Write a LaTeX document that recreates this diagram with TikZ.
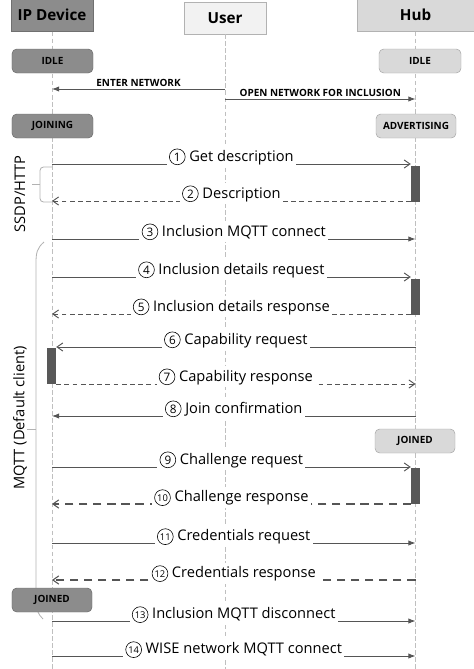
\documentclass[tikz,border=0pt]{standalone}
\usepackage{fontspec}
\setmainfont{Open Sans}
\usepackage{tikz}
\usetikzlibrary{arrows.meta,positioning,calc}

\definecolor{msggray}{HTML}{555555}
\definecolor{darkstate}{HTML}{8C8C8C}
\definecolor{lightstate}{HTML}{D9D9D9}
\definecolor{userfill}{HTML}{F2F2F2}
\definecolor{barfill}{HTML}{585858}

\newcommand{\cnum}[1]{\tikz[baseline=(cn.base)]\node[circle,draw=black,line width=0.5pt,fill=none,inner sep=0pt,minimum size=13.5pt,font=\fontsize{10}{10}\selectfont] (cn) {#1};}
\newcommand{\cnumm}[1]{\cnum{\fontsize{8}{8}\selectfont\kern-0.4pt#1\kern-0.4pt}}

\tikzset{
  head/.style={draw=#1!80!black,fill=#1,minimum height=0.98cm,font=\fontsize{13}{13}\selectfont\bfseries},
  state/.style={draw=#1!75!black,fill=#1,rounded corners=4pt,minimum height=0.72cm,font=\fontsize{8.5}{8.5}\selectfont\bfseries},
  lifeline/.style={draw=gray!50,dashed,dash pattern=on 4pt off 2pt,line width=0.5pt},
  req/.style={draw=msggray,line width=0.8pt,-{Straight Barb[length=5pt,width=7pt]}},
  reqf/.style={draw=msggray,line width=0.8pt,-{Latex[length=6pt,width=4.5pt]}},
  resp/.style={draw=msggray,line width=0.8pt,dash pattern=on 4pt off 3pt,-{Straight Barb[length=5pt,width=7pt]}},
  respl/.style={draw=msggray,line width=0.9pt,dash pattern=on 7pt off 5pt,-{Straight Barb[length=5pt,width=7pt]}},
  lbl/.style={fill=white,anchor=base,yshift=0.09cm,inner xsep=2pt,inner ysep=2pt,font=\fontsize{12.5}{12.5}\selectfont},
  caplbl/.style={above,inner sep=2pt,font=\fontsize{8.5}{8.5}\selectfont\bfseries},
  actbar/.style={fill=barfill,draw=none,minimum width=0.27cm,minimum height=1.08cm,inner sep=0pt},
  bracket/.style={draw=gray!60,line width=0.7pt},
}

\begin{document}
\begin{tikzpicture}[x=0.03cm,y=-0.03cm]
    \useasboundingbox (0,0) rectangle (474,669);

    % Headers
    \node[head=darkstate,minimum width=2.46cm] (dev) at (52,15) {IP Device};
    \node[head=userfill,draw=gray!60,minimum width=2.46cm,minimum height=0.96cm] (usr) at (225,18) {User};
    \node[head=lightstate,draw=gray!60,minimum width=3.51cm] (hub) at (415.5,15) {Hub};

    % Lifelines
    \coordinate (bottom) at (0,669);
    \draw[lifeline] (dev.south) -- (dev |- bottom);
    \draw[lifeline] (usr.south) -- (usr |- bottom);
    \draw[lifeline] (hub.south) -- (hub |- bottom);

    % States
    \node[state=darkstate,minimum width=2.43cm] (devidle) at (52.5,61) {IDLE};
    \node[state=lightstate,minimum width=2.46cm] (hubidle) at (420,61) {IDLE};
    \node[state=darkstate,minimum width=2.43cm] (devjoining) at (52.5,126) {JOINING};
    \node[state=lightstate,minimum width=2.4cm] (hubadv) at (416,126) {ADVERTISING};
    \node[state=lightstate,minimum width=2.4cm] (hubjoined) at (415,441) {JOINED};

    % User actions
    \coordinate (ra) at (0,89);
    \coordinate (rb) at (0,99);
    \draw[msggray,line width=0.8pt,-{Latex[length=6pt,width=4.5pt]}] (usr |- ra) -- node[caplbl,black] {ENTER NETWORK} (dev |- ra);
    \draw[msggray,line width=0.8pt,-{Latex[length=6pt,width=4.5pt]}] (usr |- rb) -- node[caplbl,black] {OPEN NETWORK FOR INCLUSION} (hub |- rb);

    % Activation bars
    \node[actbar] (bar1) at (415.5,184) {};
    \node[actbar] (bar2) at (415.5,297) {};
    \node[actbar] (bar3) at (51.5,366) {};
    \node[actbar] (bar4) at (415.5,486) {};

    % Message rows
    \foreach \n/\y in {1/164,2/201,3/239,4/277,5/314,6/347,7/384,8/416,9/467,10/504,11/543,12/580,13/621,14/656}
      \coordinate (r\n) at (0,\y);

    % SSDP/HTTP
    \draw[req] (dev |- r1) -- node[lbl] {\cnum{1} Get description} (bar1.west |- r1);
    \draw[resp] (bar1.west |- r2) -- node[lbl] {\cnum{2} Description} (dev |- r2);

    % MQTT
    \draw[reqf] (dev |- r3) -- node[lbl] {\cnum{3} Inclusion MQTT connect} (hub |- r3);
    \draw[req] (dev |- r4) -- node[lbl] {\cnum{4} Inclusion details request} (bar2.west |- r4);
    \draw[resp] (bar2.west |- r5) -- node[lbl] {\cnum{5} Inclusion details response} (dev |- r5);
    \draw[req] (hub |- r6) -- node[lbl] {\cnum{6} Capability request} (bar3.east |- r6);
    \draw[resp] (bar3.east |- r7) -- node[lbl] {\cnum{7} Capability response} (hub |- r7);
    \draw[reqf] (hub |- r8) -- node[lbl] {\cnum{8} Join confirmation} (dev |- r8);
    \draw[req] (dev |- r9) -- node[lbl] {\cnum{9} Challenge request} (bar4.west |- r9);
    \draw[respl] (bar4.west |- r10) -- node[lbl] {\cnumm{10} Challenge response} (dev |- r10);
    \draw[reqf] (dev |- r11) -- node[lbl] {\cnumm{11} Credentials request} (hub |- r11);
    \draw[respl] (hub |- r12) -- node[lbl] {\cnumm{12} Credentials response} (dev |- r12);

    % Brackets
    \coordinate (sstop) at (52,167);
    \coordinate (ssbot) at (52,202);
    \draw[bracket,rounded corners=3pt] (sstop) -- (40,167) -- (40,202) -- (ssbot);
    \draw[bracket] (32,184) -- (40,184);
    \node[rotate=90,font=\fontsize{12.5}{12.5}\selectfont] (ssdp) at (20,194) {SSDP/HTTP};

    \coordinate (mqtop) at (44,242);
    \coordinate (mqbot) at (43,619);
    \draw[bracket] (mqtop) .. controls (37,248) and (36,253) .. (36,263) -- (36,600) .. controls (36,610) and (38,614) .. (mqbot);
    \draw[bracket] (27,429) -- (36,429);
    \node[rotate=90,font=\fontsize{12.5}{12.5}\selectfont] (mqtt) at (20,418) {MQTT (Default client)};

    % Joined device
    \node[state=darkstate,minimum width=2.4cm] (devjoined) at (52,600) {JOINED};

    \draw[reqf] (dev |- r13) -- node[lbl] {\cnumm{13} Inclusion MQTT disconnect} (hub |- r13);
    \draw[reqf] (dev |- r14) -- node[lbl] {\cnumm{14} WISE network MQTT connect} (hub |- r14);
\end{tikzpicture}
\end{document}
